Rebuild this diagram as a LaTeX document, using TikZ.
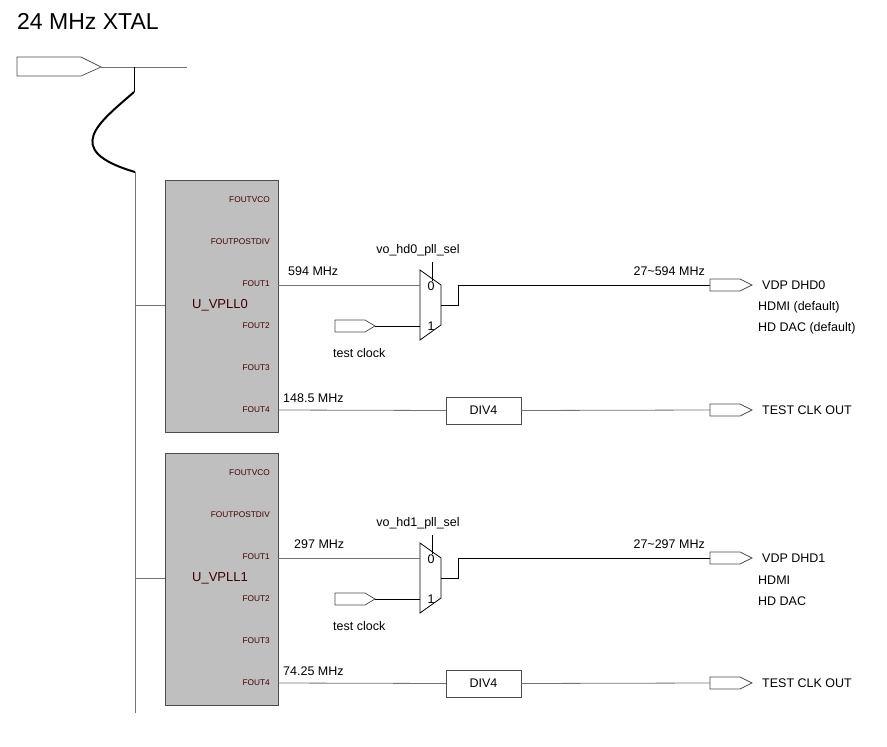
\documentclass[tikz,border=0pt]{standalone}
\usepackage{fontspec}
\setmainfont{Liberation Sans}
\begin{document}
\begin{tikzpicture}[x=1pt,y=-1pt,
  sig/.style={draw=gray!90!black,line width=0.8pt},
  blk/.style={draw=black,line width=0.8pt},
  pin/.style={font=\fontsize{8.3}{9}\selectfont,text=black!75!red,anchor=east,inner sep=0},
  lab/.style={font=\fontsize{12.5}{14}\selectfont,anchor=west,inner sep=0},
  port/.style={draw=black!70,line width=0.7pt,fill=white}]
\useasboundingbox (0,0) rectangle (887,747);
\node[anchor=west,inner sep=0,font=\fontsize{23}{26}\selectfont] (title) at (17,21) {24 MHz XTAL};
\draw[port] (17,57) -- (81,57) -- (101,67) -- (81,76) -- (17,76) -- cycle;
\coordinate (xo) at (101,67);
\coordinate (xe) at (187,67);
\draw[sig] (xo) -- (xe);
\draw[blk] (134,67) -- (134,92);
\draw[black,line width=2pt] (134,92) .. controls (100,122) and (60,150) .. (135,172);
\draw[sig] (135,172) -- (135,713);
\foreach \dy/\n/\fa/\fb/\sel/\outf/\dhd/\la/\lb/\sx in
  {0/0/594 MHz/148.5 MHz/vo\_hd0\_pll\_sel/27\textasciitilde 594 MHz/VDP DHD0/HDMI (default)/HD DAC (default)/288,
   273/1/297 MHz/74.25 MHz/vo\_hd1\_pll\_sel/27\textasciitilde 297 MHz/VDP DHD1/HDMI/HD DAC/294}{
\begin{scope}[yshift=-\dy]
\node[draw=black!70,fill=gray!50,minimum width=113,minimum height=252,inner sep=0,anchor=north west] (pll\n) at (165,180) {};
\node[lab,font=\fontsize{13}{15}\selectfont,text=black!75!red] (pn\n) at (192,305) {U\_VPLL\n};
\draw[sig] (135,305) -- (pll\n.west |- 0,305);
\node[pin] (p1\n) at (270,200) {FOUTVCO};
\node[pin] (p2\n) at (270,242) {FOUTPOSTDIV};
\node[pin] (p3\n) at (270,284) {FOUT1};
\node[pin] (p4\n) at (270,326) {FOUT2};
\node[pin] (p5\n) at (270,368) {FOUT3};
\node[pin] (p6\n) at (270,410) {FOUT4};
% mux
\draw[blk,fill=white] (420,270) -- (441,285) -- (441,325) -- (420,340) -- cycle;
\node[inner sep=0,font=\fontsize{12.5}{14}\selectfont] (m0\n) at (431,286) {0};
\node[inner sep=0,font=\fontsize{12.5}{14}\selectfont] (m1\n) at (431,326) {1};
\node[inner sep=0,font=\fontsize{12.5}{14}\selectfont] (sel\n) at (418,250) {\sel};
\draw[blk] (432,262) -- (432,281);
\draw[sig] (278,285) -- (420,285);
\node[lab] (f1\n) at (\sx,271) {\fa};
\draw[port] (335,320) -- (365,320) -- (375,326) -- (365,332) -- (335,332) -- cycle;
\draw[blk] (375,326) -- (420,326);
\node[lab] (tc\n) at (333,353) {test clock};
\draw[blk] (441,305) -- (458,305) -- (458,285) -- (710,285);
\node[lab,anchor=east] (of\n) at (705,271) {\outf};
\draw[port] (710,279) -- (740,279) -- (752,285) -- (740,291) -- (710,291) -- cycle;
\node[lab] (d\n) at (762,285) {\dhd};
\node[lab] (ha\n) at (758,307) {\la};
\node[lab] (hb\n) at (758,328) {\lb};
% fout4
\node[draw=black!70,fill=white,minimum width=75,minimum height=27,inner sep=0,font=\fontsize{12.5}{14}\selectfont] (div\n) at (483.5,410.5) {DIV4};
\draw[sig] (278,410) -- (div\n.west);
\draw[sig] (div\n.east) -- (710,410);
\node[lab] (f4\n) at (283,398) {\fb};
\draw[port] (710,404) -- (740,404) -- (752,410) -- (740,416) -- (710,416) -- cycle;
\node[lab] (to\n) at (762,410) {TEST CLK OUT};
\end{scope}}
\end{tikzpicture}
\end{document}
